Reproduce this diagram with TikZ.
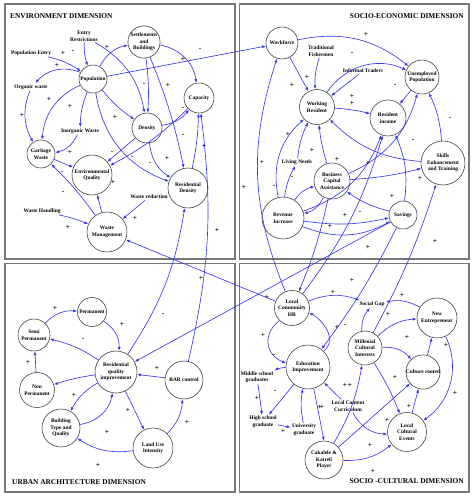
\documentclass[tikz,border=0pt]{standalone}
\usepackage{fontspec}
\setmainfont{Liberation Serif}
\usetikzlibrary{arrows.meta}
\definecolor{cldblue}{RGB}{55,55,235}
\definecolor{framegray}{RGB}{120,120,120}

\begin{document}
\begin{tikzpicture}[x=0.03cm,y=-0.03cm,
	cvar/.style={circle,draw=black!75,line width=0.5pt,fill=white,align=center,inner sep=0pt,font=\fontsize{4.6}{5.6}\selectfont\bfseries,minimum size=#1*0.06cm},
	tvar/.style={align=center,inner sep=1pt,font=\fontsize{4.6}{5.6}\selectfont\bfseries},
	sgn/.style={inner sep=0pt,font=\fontsize{6.3}{6.3}\selectfont\bfseries},
	dimtitle/.style={inner sep=0pt,font=\fontsize{6.3}{7}\selectfont\bfseries},
	lnk/.style={draw=cldblue,line width=0.55pt,-{Latex[length=3.4pt,width=2.5pt]}},
	panel/.style={draw=framegray,line width=1pt}]
					\useasboundingbox (0,0) rectangle (474,500);
					\draw[panel] (5,4) rectangle (235,259);
					\draw[panel] (239.5,4) rectangle (469,259);
					\draw[panel] (5,263.5) rectangle (235,492);
					\draw[panel] (239.5,263.5) rectangle (469,492);
					
					\path (10,16) node[dimtitle,anchor=west] (envtitle) {ENVIRONMENT DIMENSION};
					\path (464,16) node[dimtitle,anchor=east] (ecotitle) {SOCIO-ECONOMIC DIMENSION};
					\path (12,482) node[dimtitle,anchor=west] (urbtitle) {URBAN ARCHITECTURE DIMENSION};
					\path (464,481) node[dimtitle,anchor=east] (culttitle) {SOCIO -CULTURAL DIMENSION};
					
					\path (84,36) node[tvar] (entry) {Entry\\Restrictions};
					\path (31,53) node[tvar] (popent) {Population Entry};
					\path (144,42) node[cvar=16] (settle) {Settlements\\and\\Buildings};
					\path (93,79) node[cvar=14] (pop) {Population};
					\path (31,87) node[tvar] (organic) {Organic waste};
					\path (199,98) node[cvar=15] (capac) {Capacity};
					\path (147,128) node[cvar=15] (dens) {Density};
					\path (80,131) node[tvar] (inorg) {Inorganic Waste};
					\path (41,154) node[cvar=14] (garb) {Garbage\\Waste};
					\path (92,175) node[cvar=20] (envq) {Environmental\\Quality};
					\path (188,188) node[cvar=20] (resden) {Residential\\Density};
					\path (149,197) node[tvar] (wred) {Waste reduction};
					\path (42,211) node[tvar] (whand) {Waste Handling};
					\path (107,232) node[cvar=20] (wman) {Waste\\Management};
					
					\path (282,43) node[cvar=16] (wforce) {Workforce};
					\path (321,51) node[tvar] (fisher) {Traditional\\Fishermen};
					\path (363,71) node[tvar] (trader) {Informal Traders};
					\path (422,77) node[cvar=17] (unemp) {Unemployed\\Population};
					\path (317,107) node[cvar=17.5] (wres) {Working\\Resident};
					\path (388,118) node[cvar=18] (rinc) {Resident\\income};
					\path (297,162) node[tvar] (living) {Living Needs};
					\path (332,181) node[cvar=18] (bca) {Business\\Capital\\Assistance};
					\path (443,163) node[cvar=22] (skills) {Skills\\Enhancement\\and Training};
					\path (283,218) node[cvar=21] (revinc) {Revenue\\Increase};
					\path (403,215) node[cvar=14] (savings) {Savings};
					
					\path (92,312) node[cvar=14.5] (perm) {Permanent};
					\path (34,335) node[cvar=16] (semi) {Semi\\Permanent};
					\path (116,372) node[cvar=21] (rqi) {Residential\\quality\\improvement};
					\path (184,380) node[cvar=19] (bar) {BAR control};
					\path (37,390) node[cvar=17.5] (nonperm) {Non\\Permanent};
					\path (61,428) node[cvar=19] (build) {Building\\Type and\\Quality};
					\path (153,448) node[cvar=20] (landuse) {Land Use\\Intensity};
					
					\path (292,308) node[cvar=17.5] (lchr) {Local\\Community\\HR};
					\path (372,304) node[tvar] (socgap) {Social Gap};
					\path (437,318) node[cvar=20] (newent) {New\\Entrepreneur};
					\path (308,367) node[cvar=22] (edu) {Education\\Improvement};
					\path (365,348) node[cvar=17] (mill) {Millenial\\Cultural\\Interests};
					\path (423,372) node[cvar=16] (culture) {Culture rooted};
					\path (257,377) node[tvar] (middle) {Middle school\\graduates};
					\path (263,422) node[tvar] (high) {High school\\graduate};
					\path (304,430) node[tvar] (univ) {University\\graduate};
					\path (348,406) node[tvar] (lcc) {Local Content\\Curriculum};
					\path (407,432) node[cvar=19.5] (lce) {Local\\Cultural\\Events};
					\path (324,460) node[cvar=19] (cak) {Cakalele \&\\Katreli\\Player};
					
					\draw[lnk] (entry) to[bend right=10] (pop);
					\draw[lnk] (popent) to[bend left=10] (pop);
					\draw[lnk] (entry) to[bend left=25] (dens);
					\draw[lnk] (pop) to[bend left=25] (settle);
					\draw[lnk] (settle) to[bend left=5] (dens);
					\draw[lnk] (settle) to[bend left=5] (resden);
					\draw[lnk] (settle) to[bend left=35] (capac);
					\draw[lnk] (pop) -- (wforce);
					\draw[lnk] (pop) to[bend right=35] (organic);
					\draw[lnk] (organic) to[bend right=25] (garb);
					\draw[lnk] (pop) to[bend right=30] (garb);
					\draw[lnk] (pop) to[bend right=10] (inorg);
					\draw[lnk] (inorg) to[bend left=25] (garb);
					\draw[lnk] (pop) to[bend right=8] (dens);
					\draw[lnk] (pop) to[bend right=30] (resden);
					\draw[lnk] (garb) -- (envq);
					\draw[lnk] (dens) -- (envq);
					\draw[lnk] (capac) to[bend left=8] (envq);
					\draw[lnk] (dens) to[bend right=20] (capac);
					\draw[lnk] (dens) to[bend right=25] (resden);
					\draw[lnk] (resden) to[bend right=5] (capac);
					\draw[lnk] (wman) to[bend right=5] (garb);
					\draw[lnk] (wman) -- (envq);
					\draw[lnk] (wred) -- (wman);
					\draw[lnk] (whand) to[bend left=5] (wman);
					\draw[lnk] (lchr) -- (wman);
					\draw[lnk] (rqi) to[bend right=12] (resden);
					\draw[lnk] (bar) to[bend right=10] (capac);
					
					\draw[lnk] (wforce) to[bend left=25] (unemp);
					\draw[lnk] (wforce) -- (wres);
					\draw[lnk] (fisher) to[bend right=10] (wres);
					\draw[lnk] (wres) to[bend left=40] (unemp);
					\draw[lnk] (trader) -- (wres);
					\draw[lnk] (wres) to[bend left=5] (rinc);
					\draw[lnk] (unemp) -- (rinc);
					\draw[lnk] (skills) to[bend right=10] (unemp);
					\draw[lnk] (bca) to[bend right=25] (unemp);
					\draw[lnk] (bca) to[bend left=5] (wres);
					\draw[lnk] (living) to[bend left=10] (wres);
					\draw[lnk] (revinc) to[bend left=30] (wres);
					\draw[lnk] (revinc) to[bend left=10] (living);
					\draw[lnk] (revinc) to[bend left=20] (bca);
					\draw[lnk] (bca) to[bend left=25] (revinc);
					\draw[lnk] (savings) to[bend left=10] (bca);
					\draw[lnk] (revinc) to[bend right=10] (savings);
					\draw[lnk] (revinc) to[bend right=25] (savings);
					\draw[lnk] (savings) to[bend right=15] (rinc);
					\draw[lnk] (revinc) to[bend right=25] (rinc);
					\draw[lnk] (skills) to[bend left=20] (wres);
					\draw[lnk] (bca) to[bend right=5] (skills);
					\draw[lnk] (mill) to[bend right=5] (skills);
					\draw[lnk] (lchr) to[bend left=20] (wforce);
					\draw[lnk] (savings) to[bend left=5] (edu);
					\draw[lnk] (bca) to[bend left=5] (lchr);
					\draw[lnk] (lchr) to[bend right=10] (rinc);
					\draw[lnk] (savings) -- (rqi);
					
					\draw[lnk] (semi) to[bend left=25] (perm);
					\draw[lnk] (perm) to[bend left=30] (rqi);
					\draw[lnk] (rqi) to[bend right=10] (semi);
					\draw[lnk] (nonperm) -- (semi);
					\draw[lnk] (rqi) to[bend right=5] (nonperm);
					\draw[lnk] (rqi) to[bend right=15] (build);
					\draw[lnk] (build) to[bend right=35] (rqi);
					\draw[lnk] (rqi) -- (landuse);
					\draw[lnk] (landuse) to[bend left=20] (build);
					\draw[lnk] (landuse) to[bend right=20] (bar);
					\draw[lnk] (bar) -- (rqi);
					
					\draw[lnk] (lchr) to[bend left=20] (socgap);
					\draw[lnk] (newent) to[bend right=20] (socgap);
					\draw[lnk] (mill) to[bend left=20] (socgap);
					\draw[lnk] (edu.45) .. controls +(14,-12) and +(14,8) .. (lchr.-15);
					\draw[lnk] (lchr.225) .. controls +(-18,14) and +(-20,-8) .. (edu.170);
					\draw[lnk] (edu) to[bend right=10] (middle);
					\draw[lnk] (middle) -- (high);
					\draw[lnk] (edu) -- (high);
					\draw[lnk] (high) -- (univ);
					\draw[lnk] (univ) to[bend left=10] (edu);
					\draw[lnk] (edu.-75) -- (cak.north);
					\draw[lnk] (cak) to[bend right=10] (mill);
					\draw[lnk] (lcc) -- (edu);
					\draw[lnk] (lcc) to[bend right=30] (lce);
					\draw[lnk] (cak) to[bend right=20] (lce);
					\draw[lnk] (cak) -- (culture);
					\draw[lnk] (lce) -- (culture);
					\draw[lnk] (mill) to[bend left=5] (lce);
					\draw[lnk] (culture) -- (newent);
					\draw[lnk] (mill) to[bend left=25] (culture);
					\draw[lnk] (mill) to[bend left=20] (newent);
					\draw[lnk] (newent) to[bend left=40] (lce);
					
					\path (73,51) node[sgn] (s1) {-};
					\path (63,53) node[sgn] (s2) {+};
					\path (107,47) node[sgn] (s3) {+};
					\path (57,65) node[sgn] (s4) {+};
					\path (200,49) node[sgn] (s5) {-};
					\path (183,59) node[sgn] (s6) {+};
					\path (49,99) node[sgn] (s7) {+};
					\path (70,106) node[sgn] (s8) {+};
					\path (22,115) node[sgn] (s9) {+};
					\path (115,117) node[sgn] (s10) {+};
					\path (144,84) node[sgn] (s11) {-};
					\path (168,85) node[sgn] (s12) {+};
					\path (183,108) node[sgn] (s13) {-};
					\path (70,152) node[sgn] (s14) {+};
					\path (112,152) node[sgn] (s15) {-};
					\path (132,157) node[sgn] (s16) {-};
					\path (150,163) node[sgn] (s17) {-};
					\path (167,158) node[sgn] (s18) {+};
					\path (183,135) node[sgn] (s19) {-};
					\path (204,146) node[sgn] (s20) {+};
					\path (62,172) node[sgn] (s21) {-};
					\path (113,182) node[sgn] (s22) {+};
					\path (63,192) node[sgn] (s23) {-};
					\path (135,218) node[sgn] (s24) {+};
					\path (68,227) node[sgn] (s25) {+};
					\path (217,230) node[sgn] (s26) {+};
					
					\path (201,278) node[sgn] (s27) {+};
					\path (55,308) node[sgn] (s28) {+};
					\path (163,314) node[sgn] (s29) {-};
					\path (122,324) node[sgn] (s30) {+};
					\path (83,339) node[sgn] (s31) {-};
					\path (28,362) node[sgn] (s32) {+};
					\path (157,368) node[sgn] (s33) {+};
					\path (74,395) node[sgn] (s34) {+};
					\path (128,410) node[sgn] (s35) {+};
					\path (187,422) node[sgn] (s36) {+};
					\path (107,432) node[sgn] (s37) {+};
					\path (98,465) node[sgn] (s38) {+};
					
					\path (366,34) node[sgn] (s39) {+};
					\path (352,53) node[sgn] (s40) {-};
					\path (307,77) node[sgn] (s41) {+};
					\path (292,85) node[sgn] (s42) {+};
					\path (395,85) node[sgn] (s43) {-};
					\path (352,96) node[sgn] (s44) {+};
					\path (352,103) node[sgn] (s45) {+};
					\path (450,118) node[sgn] (s46) {-};
					\path (288,134) node[sgn] (s47) {+};
					\path (262,162) node[sgn] (s48) {+};
					\path (312,150) node[sgn] (s49) {+};
					\path (337,159) node[sgn] (s50) {+};
					\path (413,140) node[sgn] (s51) {-};
					\path (368,163) node[sgn] (s52) {+};
					\path (244,187) node[sgn] (s53) {+};
					\path (274,186) node[sgn] (s54) {-};
					\path (292,177) node[sgn] (s55) {-};
					\path (420,178) node[sgn] (s56) {+};
					\path (392,196) node[sgn] (s57) {+};
					\path (345,215) node[sgn] (s58) {+};
					\path (360,212) node[sgn] (s59) {-};
					\path (330,226) node[sgn] (s60) {+};
					\path (435,241) node[sgn] (s61) {+};
					\path (368,247) node[sgn] (s62) {+};
					
					\path (352,280) node[sgn] (s63) {+};
					\path (333,292) node[sgn] (s64) {+};
					\path (402,295) node[sgn] (s65) {+};
					\path (267,297) node[sgn] (s66) {+};
					\path (388,314) node[sgn] (s67) {+};
					\path (337,327) node[sgn] (s68) {+};
					\path (345,325) node[sgn] (s69) {-};
					\path (263,335) node[sgn] (s70) {+};
					\path (407,337) node[sgn] (s71) {+};
					\path (446,345) node[sgn] (s72) {+};
					\path (274,355) node[sgn] (s73) {-};
					\path (257,398) node[sgn] (s74) {+};
					\path (275,391) node[sgn] (s75) {-};
					\path (283,431) node[sgn] (s76) {+};
					\path (319.5,407) node[sgn] (s77) {+};
					\path (322,407) node[sgn] (s78) {+};
					\path (345,385) node[sgn] (s79) {+};
					\path (350,385) node[sgn] (s80) {+};
					\path (395,377) node[sgn] (s81) {+};
					\path (387,420) node[sgn] (s82) {+};
					\path (409,406) node[sgn] (s83) {+};
					\path (370,445) node[sgn] (s84) {+};
					\path (373,471) node[sgn] (s85) {+};
					\path (455,393) node[sgn] (s86) {+};
\end{tikzpicture}
\end{document}
